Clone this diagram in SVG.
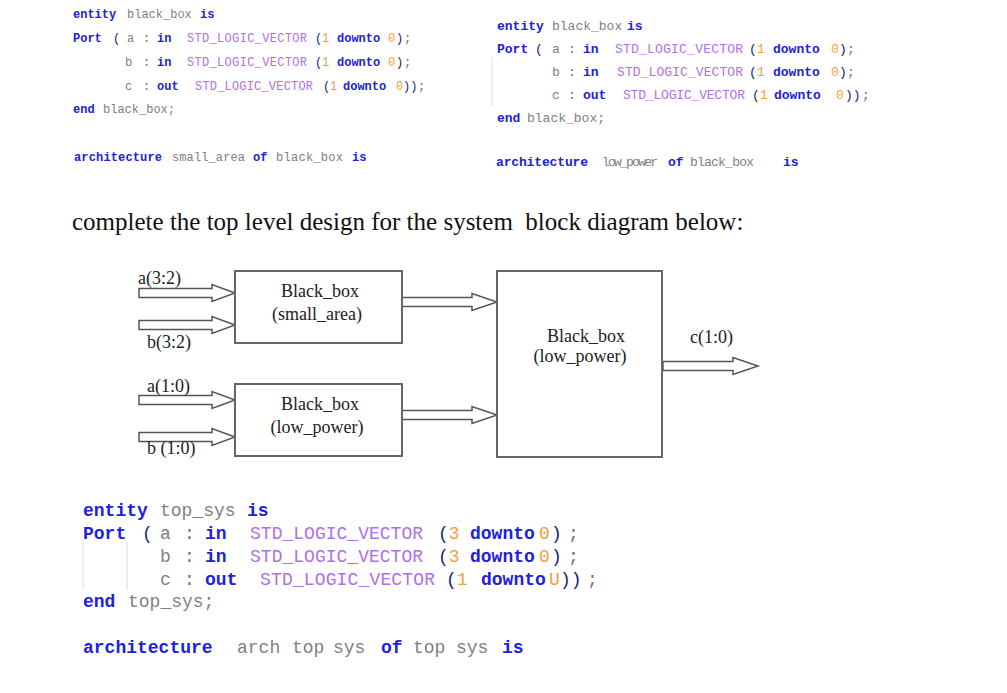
<svg xmlns="http://www.w3.org/2000/svg" width="1007" height="693" viewBox="0 0 1007 693">
<style>
.c1{font-family:"Liberation Mono",monospace;font-size:12px}
.c2{font-family:"Liberation Mono",monospace;font-size:13px}
.c3{font-family:"Liberation Mono",monospace;font-size:18px}
.k{fill:#2020e0;font-weight:bold}
.i{fill:#808080}
.t{fill:#b070e8}
.n{fill:#f0a040}
.p{fill:#202070}
.s{fill:#707070}
.lbl{font-family:"Liberation Serif","Times New Roman",serif;font-size:18px;fill:#222}
.head{font-family:"Liberation Serif","Times New Roman",serif;font-size:25px;fill:#111}
.box{fill:#fff;stroke:#666;stroke-width:2}
.arr{fill:#fff;stroke:#555;stroke-width:1.5;stroke-linejoin:miter}
.guide{stroke:#dcdcdc;stroke-width:1}
</style>
<rect width="1007" height="693" fill="#fff"/>

<!-- top-left code -->
<g id="code-left" class="c1">
<text y="18"><tspan x="73" class="k">entity</tspan><tspan x="127" class="i">black_box</tspan><tspan x="200" class="k">is</tspan></text>
<text y="42"><tspan x="73" class="k">Port</tspan><tspan x="113" class="p">(</tspan><tspan x="127" class="i">a</tspan><tspan x="143" class="s">:</tspan><tspan x="157" class="k">in</tspan><tspan x="187" class="t" textLength="120">STD_LOGIC_VECTOR</tspan><tspan x="315" class="p">(</tspan><tspan x="322" class="n">1</tspan><tspan x="337" class="k">downto</tspan><tspan x="388" class="n">0</tspan><tspan x="396" class="p">)</tspan><tspan x="404" class="s">;</tspan></text>
<text y="66"><tspan x="125" class="i">b</tspan><tspan x="143" class="s">:</tspan><tspan x="157" class="k">in</tspan><tspan x="187" class="t" textLength="120">STD_LOGIC_VECTOR</tspan><tspan x="315" class="p">(</tspan><tspan x="322" class="n">1</tspan><tspan x="337" class="k">downto</tspan><tspan x="388" class="n">0</tspan><tspan x="396" class="p">)</tspan><tspan x="404" class="s">;</tspan></text>
<text y="90"><tspan x="125" class="i">c</tspan><tspan x="143" class="s">:</tspan><tspan x="157" class="k">out</tspan><tspan x="195" class="t" textLength="118">STD_LOGIC_VECTOR</tspan><tspan x="323" class="p">(</tspan><tspan x="330" class="n">1</tspan><tspan x="343" class="k">downto</tspan><tspan x="396" class="n">0</tspan><tspan x="403" class="p">))</tspan><tspan x="418" class="s">;</tspan></text>
<text y="113"><tspan x="73" class="k">end</tspan><tspan x="103" class="i">black_box;</tspan></text>
<text y="161"><tspan x="74" class="k" textLength="88">architecture</tspan><tspan x="172" class="i" textLength="73">small_area</tspan><tspan x="253" class="k">of</tspan><tspan x="276" class="i" textLength="67">black_box</tspan><tspan x="352" class="k">is</tspan></text>
</g>

<!-- top-right code -->
<g id="code-right" class="c2">
<line class="guide" x1="492" y1="57" x2="492" y2="106"/>
<text y="30"><tspan x="497" class="k">entity</tspan><tspan x="552" class="i">black_box</tspan><tspan x="627" class="k">is</tspan></text>
<text y="53"><tspan x="497" class="k">Port</tspan><tspan x="535" class="p">(</tspan><tspan x="552" class="i">a</tspan><tspan x="568" class="s">:</tspan><tspan x="583" class="k">in</tspan><tspan x="615" class="t" textLength="128">STD_LOGIC_VECTOR</tspan><tspan x="749" class="p">(</tspan><tspan x="757" class="n">1</tspan><tspan x="773" class="k">downto</tspan><tspan x="831" class="n">0</tspan><tspan x="839" class="p">)</tspan><tspan x="847" class="s">;</tspan></text>
<text y="76"><tspan x="552" class="i">b</tspan><tspan x="568" class="s">:</tspan><tspan x="583" class="k">in</tspan><tspan x="617" class="t" textLength="126">STD_LOGIC_VECTOR</tspan><tspan x="749" class="p">(</tspan><tspan x="757" class="n">1</tspan><tspan x="773" class="k">downto</tspan><tspan x="831" class="n">0</tspan><tspan x="839" class="p">)</tspan><tspan x="847" class="s">;</tspan></text>
<text y="99"><tspan x="552" class="i">c</tspan><tspan x="568" class="s">:</tspan><tspan x="583" class="k">out</tspan><tspan x="623" class="t" textLength="122">STD_LOGIC_VECTOR</tspan><tspan x="752" class="p">(</tspan><tspan x="760" class="n">1</tspan><tspan x="774" class="k">downto</tspan><tspan x="836" class="n">0</tspan><tspan x="845" class="p">))</tspan><tspan x="862" class="s">;</tspan></text>
<text y="122"><tspan x="497" class="k">end</tspan><tspan x="527" class="i">black_box;</tspan></text>
<text y="166"><tspan x="496" class="k" textLength="92">architecture</tspan><tspan x="602" class="i" textLength="56">low_power</tspan><tspan x="668" class="k">of</tspan><tspan x="690" class="i" textLength="64">black_box</tspan><tspan x="783" class="k">is</tspan></text>
</g>

<text id="heading" class="head" x="72" y="230" xml:space="preserve">complete the top level design for the system  block diagram below:</text>

<!-- connectors -->
<g id="connectors">
<path class="arr" d="M139,288.5 L212,288.5 L212,284.5 L235,293 L212,301.5 L212,297.5 L139,297.5 Z"/>
<path class="arr" d="M139,320.5 L212,320.5 L212,316.5 L235,325 L212,333.5 L212,329.5 L139,329.5 Z"/>
<path class="arr" d="M139,395.5 L212,395.5 L212,391.5 L235,400 L212,408.5 L212,404.5 L139,404.5 Z"/>
<path class="arr" d="M139,432.5 L212,432.5 L212,428.5 L235,437 L212,445.5 L212,441.5 L139,441.5 Z"/>
<path class="arr" d="M402,297.5 L472,297.5 L472,293.5 L497,302 L472,310.5 L472,306.5 L402,306.5 Z"/>
<path class="arr" d="M402,410.5 L472,410.5 L472,406.5 L497,415 L472,423.5 L472,419.5 L402,419.5 Z"/>
<path class="arr" d="M663,361.5 L733,361.5 L733,357.5 L758,366 L733,374.5 L733,370.5 L663,370.5 Z"/>
<text class="lbl" x="138" y="284">a(3:2)</text>
<text class="lbl" x="147" y="348">b(3:2)</text>
<text class="lbl" x="147" y="392">a(1:0)</text>
<text class="lbl" x="147" y="454">b (1:0)</text>
<text class="lbl" x="690" y="343">c(1:0)</text>
</g>

<!-- nodes -->
<g id="bb-small-area">
<rect class="box" x="235" y="271" width="167" height="72"/>
<text class="lbl" x="320" y="297" text-anchor="middle">Black_box</text>
<text class="lbl" x="317" y="320" text-anchor="middle">(small_area)</text>
</g>
<g id="bb-low-power-1">
<rect class="box" x="235" y="384" width="167" height="72"/>
<text class="lbl" x="320" y="410" text-anchor="middle">Black_box</text>
<text class="lbl" x="317" y="433" text-anchor="middle">(low_power)</text>
</g>
<g id="bb-low-power-2">
<rect class="box" x="497" y="271" width="165" height="186"/>
<text class="lbl" x="586" y="342" text-anchor="middle">Black_box</text>
<text class="lbl" x="580" y="362" text-anchor="middle">(low_power)</text>
</g>

<!-- bottom code -->
<g id="code-bottom" class="c3">
<line class="guide" x1="83" y1="542" x2="83" y2="590"/>
<line class="guide" x1="127" y1="542" x2="127" y2="590"/>
<text y="516"><tspan x="83" class="k">entity</tspan><tspan x="160" class="i">top_sys</tspan><tspan x="247" class="k">is</tspan></text>
<text y="539"><tspan x="83" class="k">Port</tspan><tspan x="142" class="p">(</tspan><tspan x="160" class="i">a</tspan><tspan x="184" class="s">:</tspan><tspan x="205" class="k">in</tspan><tspan x="250" class="t" textLength="173">STD_LOGIC_VECTOR</tspan><tspan x="438" class="p">(</tspan><tspan class="n">3</tspan><tspan x="470" class="k">downto</tspan><tspan x="539" class="n">0</tspan><tspan x="551" class="p">)</tspan><tspan x="568" class="s">;</tspan></text>
<text y="562"><tspan x="160" class="i">b</tspan><tspan x="184" class="s">:</tspan><tspan x="205" class="k">in</tspan><tspan x="250" class="t" textLength="173">STD_LOGIC_VECTOR</tspan><tspan x="438" class="p">(</tspan><tspan class="n">3</tspan><tspan x="470" class="k">downto</tspan><tspan x="539" class="n">0</tspan><tspan x="551" class="p">)</tspan><tspan x="568" class="s">;</tspan></text>
<text y="585"><tspan x="160" class="i">c</tspan><tspan x="184" class="s">:</tspan><tspan x="205" class="k">out</tspan><tspan x="260" class="t" textLength="175">STD_LOGIC_VECTOR</tspan><tspan x="446" class="p">(</tspan><tspan class="n">1</tspan><tspan x="481" class="k">downto</tspan><tspan x="549" class="n">U</tspan><tspan x="560" class="p">))</tspan><tspan x="587" class="s">;</tspan></text>
<text y="607"><tspan x="83" class="k">end</tspan><tspan x="128" class="i">top_sys;</tspan></text>
<text y="653"><tspan x="83" class="k">architecture</tspan><tspan x="237" class="i">arch</tspan><tspan x="292" class="i">top</tspan><tspan x="333" class="i">sys</tspan><tspan x="381" class="k">of</tspan><tspan x="413" class="i">top</tspan><tspan x="456" class="i">sys</tspan><tspan x="502" class="k">is</tspan></text>
</g>
</svg>
